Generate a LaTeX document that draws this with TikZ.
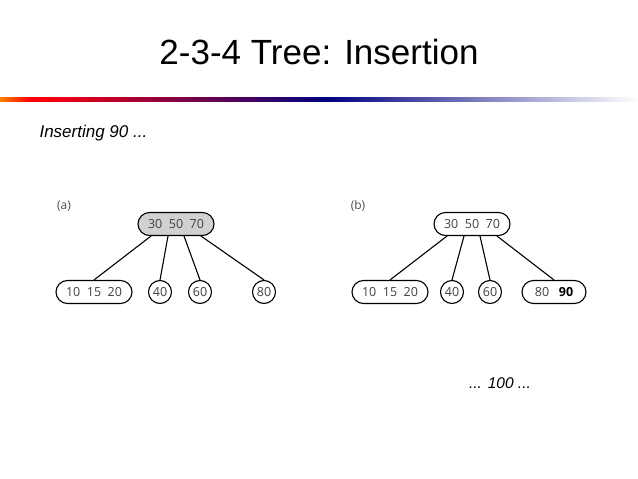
\documentclass[tikz,border=0pt]{standalone}
\usepackage{fontspec}
\setmainfont{Liberation Sans}
\newfontfamily\treefont{Open Sans}
\begin{document}
\begin{tikzpicture}[x=1pt,y=-1pt,
 key/.style={draw,rounded corners=11.5pt,line width=1.1pt,minimum height=23pt,inner sep=0pt,font=\treefont\fontsize{12.5}{13}\selectfont,text=black!75},
 ed/.style={line width=1.1pt}]
\useasboundingbox (0,0) rectangle (638,479);
\node[font=\fontsize{35}{38}\selectfont] (title) at (319,52) {2-3-4 Tree: Insertion};
\shade[left color=orange, right color=red!70!purple, middle color=red] (0,97) rectangle (60,101);
\shade[left color=red!70!purple, right color=blue!50!black] (60,97) rectangle (325,101);
\shade[left color=blue!50!black, right color=white] (325,97) rectangle (638,101);
\node[font=\itshape\fontsize{17}{19}\selectfont,anchor=west] (ins) at (36,133) {Inserting 90 ...};
\node[font=\itshape\fontsize{15.5}{17}\selectfont] (hund) at (500,383) {... 100 ...};
% (a)
\node[font=\treefont\fontsize{12}{13}\selectfont,text=black!70] (la) at (64,206) {(a)};
\node[key,fill=black!18,minimum width=76pt] (ra) at (176,224) {30\ \ 50\ \ 70};
\node[key,minimum width=76pt] (a1) at (94,292) {10\ \ 15\ \ 20};
\node[key,minimum width=23pt] (a2) at (160,292) {40};
\node[key,minimum width=23pt] (a3) at (200,292) {60};
\node[key,minimum width=23pt] (a4) at (264,292) {80};
\draw[ed] ([xshift=-25pt]ra.south) -- (a1.north);
\draw[ed] ([xshift=-8pt]ra.south) -- (a2.north);
\draw[ed] ([xshift=8pt]ra.south) -- (a3.north);
\draw[ed] ([xshift=25pt]ra.south) -- (a4.north);
% (b)
\node[font=\treefont\fontsize{12}{13}\selectfont,text=black!70] (lb) at (358,206) {(b)};
\node[key,minimum width=76pt] (rb) at (472,224) {30\ \ 50\ \ 70};
\node[key,minimum width=76pt] (b1) at (390,292) {10\ \ 15\ \ 20};
\node[key,minimum width=23pt] (b2) at (452,292) {40};
\node[key,minimum width=23pt] (b3) at (490,292) {60};
\node[key,minimum width=64pt] (b4) at (554,292) {80\ \ \ \textcolor{black}{\bfseries 90}};
\draw[ed] ([xshift=-25pt]rb.south) -- (b1.north);
\draw[ed] ([xshift=-8pt]rb.south) -- (b2.north);
\draw[ed] ([xshift=8pt]rb.south) -- (b3.north);
\draw[ed] ([xshift=25pt]rb.south) -- (b4.north);
\end{tikzpicture}
\end{document}
